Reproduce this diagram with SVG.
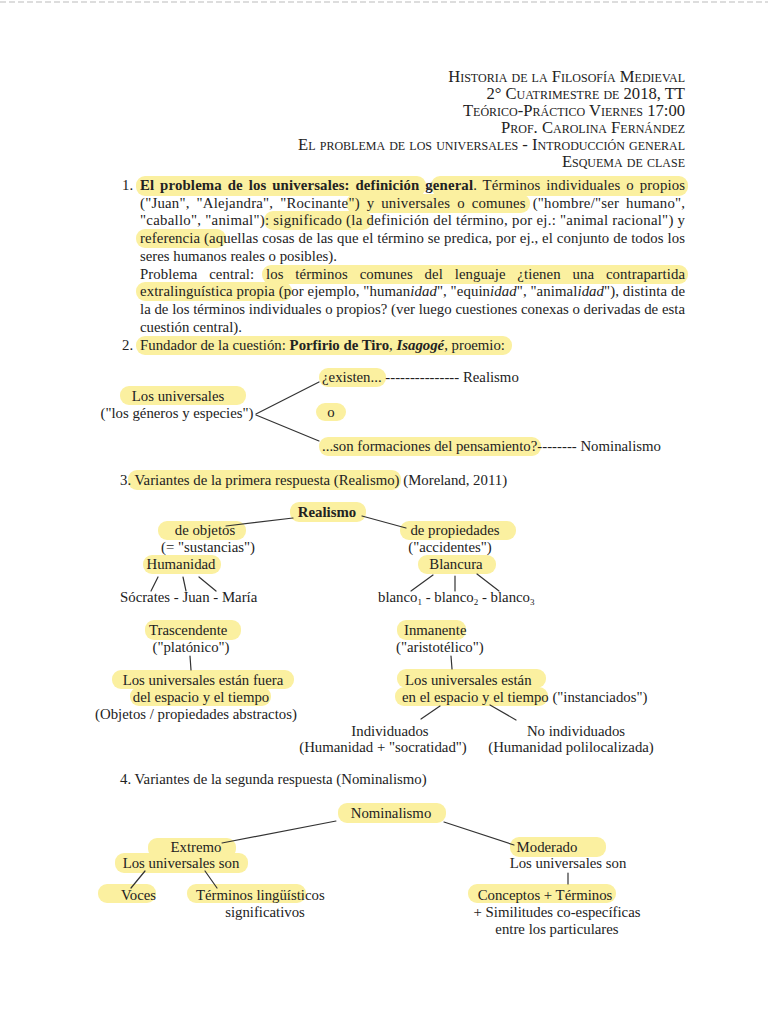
<svg xmlns="http://www.w3.org/2000/svg" width="768" height="1024" viewBox="0 0 768 1024">
<style>
text{font-family:"Liberation Serif","Times New Roman",serif;font-size:14.8px;fill:#222}
.sc{font-variant:small-caps}
#header text{font-size:16.6px}
.b{font-weight:bold}
.i{font-style:italic}
.c{text-anchor:middle}
.e{text-anchor:end}
.hl{fill:#fbf0a0}
.ln{stroke:#333;stroke-width:1.2;fill:none;stroke-linecap:round}
</style>
<rect width="768" height="1024" fill="#fff"/>
<line x1="0" y1="2" x2="768" y2="2" stroke="#bbb" stroke-width="1" stroke-dasharray="6 3"/>

<g id="highlights">
<rect class="hl" x="136" y="176" width="290" height="20" rx="9"/>
<rect class="hl" x="431" y="176" width="257" height="20" rx="9"/>
<rect class="hl" x="346" y="194" width="184" height="19" rx="9"/>
<rect class="hl" x="264" y="211" width="108" height="19" rx="9"/>
<rect class="hl" x="136" y="229" width="90" height="19" rx="9"/>
<rect class="hl" x="262" y="265" width="426" height="19" rx="9"/>
<rect class="hl" x="136" y="282" width="156" height="19" rx="9"/>
<rect class="hl" x="136" y="336" width="376" height="19" rx="9"/>
<rect class="hl" x="120" y="386" width="126" height="19" rx="9"/>
<rect class="hl" x="319" y="368" width="67" height="19" rx="9"/>
<rect class="hl" x="316" y="403" width="30" height="18" rx="9"/>
<rect class="hl" x="319" y="437" width="222" height="19" rx="9"/>
<rect class="hl" x="128" y="470" width="273" height="20" rx="9"/>
<rect class="hl" x="290" y="502" width="76" height="20" rx="9"/>
<rect class="hl" x="158" y="521" width="88" height="19" rx="9"/>
<rect class="hl" x="143" y="555" width="78" height="19" rx="9"/>
<rect class="hl" x="400" y="521" width="116" height="19" rx="9"/>
<rect class="hl" x="418" y="555" width="78" height="19" rx="9"/>
<rect class="hl" x="145" y="620" width="96" height="20" rx="9"/>
<rect class="hl" x="112" y="670" width="182" height="19" rx="9"/>
<rect class="hl" x="130" y="687" width="141" height="19" rx="9"/>
<rect class="hl" x="397" y="620" width="69" height="20" rx="9"/>
<rect class="hl" x="397" y="669" width="149" height="19" rx="9"/>
<rect class="hl" x="395" y="687" width="153" height="19" rx="9"/>
<rect class="hl" x="338" y="803" width="108" height="20" rx="9"/>
<rect class="hl" x="148" y="838" width="88" height="20" rx="9"/>
<rect class="hl" x="115" y="853" width="133" height="20" rx="9"/>
<rect class="hl" x="98" y="884" width="58" height="19" rx="9"/>
<rect class="hl" x="187" y="884" width="119" height="19" rx="9"/>
<rect class="hl" x="510" y="837" width="96" height="20" rx="9"/>
<rect class="hl" x="468" y="884" width="148" height="19" rx="9"/>
</g>

<g id="header" class="sc">
<text class="e" x="685" y="82">Historia de la Filosofía Medieval</text>
<text class="e" x="685" y="99">2° Cuatrimestre de 2018, TT</text>
<text class="e" x="685" y="116">Teórico-Práctico Viernes 17:00</text>
<text class="e" x="685" y="133">Prof. Carolina Fernández</text>
<text class="e" x="685" y="150">El problema de los universales - Introducción general</text>
<text class="e" x="685" y="167">Esquema de clase</text>
</g>

<g id="section1">
<text x="122" y="190">1.</text>
<text x="140" y="190" word-spacing="2" textLength="545" lengthAdjust="spacing"><tspan class="b">El problema de los universales: definición general</tspan>. Términos individuales o propios</text>
<text x="140" y="208" word-spacing="3" textLength="545" lengthAdjust="spacing">("Juan", "Alejandra", "Rocinante") y universales o comunes ("hombre/"ser humano",</text>
<text x="140" y="225" textLength="545" lengthAdjust="spacing">"caballo", "animal"): significado (la definición del término, por ej.: "animal racional") y</text>
<text x="140" y="243" textLength="545" lengthAdjust="spacing">referencia (aquellas cosas de las que el término se predica, por ej., el conjunto de todos los</text>
<text x="140" y="261">seres humanos reales o posibles).</text>
<text x="140" y="279" word-spacing="8" textLength="545" lengthAdjust="spacing">Problema central: los términos comunes del lenguaje ¿tienen una contrapartida</text>
<text x="140" y="296" textLength="545" lengthAdjust="spacing">extralinguística propia (por ejemplo, "human<tspan class="i">idad</tspan>", "equin<tspan class="i">idad</tspan>", "animal<tspan class="i">idad</tspan>"), distinta de</text>
<text x="140" y="314" textLength="545" lengthAdjust="spacing">la de los términos individuales o propios? (ver luego cuestiones conexas o derivadas de esta</text>
<text x="140" y="332">cuestión central).</text>
</g>

<g id="section2">
<text x="122" y="350">2.</text>
<text x="140" y="350">Fundador de la cuestión: <tspan class="b">Porfirio de Tiro</tspan>, <tspan class="b i">Isagogé</tspan>, proemio:</text>
<g id="n-universales">
<text class="c" x="178" y="401">Los universales</text>
<text class="c" x="177" y="418">("los géneros y especies")</text>
</g>
<g id="n-existen"><text x="322" y="382">¿existen... --------------- Realismo</text></g>
<g id="n-o"><text class="c" x="331" y="417">o</text></g>
<g id="n-formaciones"><text x="322" y="451">...son formaciones del pensamiento?-------- Nominalismo</text></g>
</g>

<g id="section3">
<text x="120" y="485">3. Variantes de la primera respuesta (Realismo) (Moreland, 2011)</text>
<g id="n-realismo"><text class="c b" x="327" y="517">Realismo</text></g>
<g id="n-objetos">
<text class="c" x="205" y="535">de objetos</text>
<text class="c" x="208" y="552">(= "sustancias")</text>
</g>
<g id="n-humanidad"><text class="c" x="181" y="569">Humanidad</text></g>
<g id="n-socrates"><text x="120" y="602">Sócrates - Juan - María</text></g>
<g id="n-propiedades">
<text class="c" x="455" y="535">de propiedades</text>
<text class="c" x="450" y="552">("accidentes")</text>
</g>
<g id="n-blancura"><text class="c" x="456" y="569">Blancura</text></g>
<g id="n-blancos"><text x="378" y="602">blanco<tspan font-size="9" dy="3">1</tspan><tspan dy="-3"> - blanco</tspan><tspan font-size="9" dy="3">2</tspan><tspan dy="-3"> - blanco</tspan><tspan font-size="9" dy="3">3</tspan></text></g>
<g id="n-trascendente">
<text x="149" y="635">Trascendente</text>
<text class="c" x="191" y="652">("platónico")</text>
</g>
<g id="n-fuera">
<text class="c" x="203" y="685">Los universales están fuera</text>
<text class="c" x="201" y="702">del espacio y el tiempo</text>
<text class="c" x="196" y="719">(Objetos / propiedades abstractos)</text>
</g>
<g id="n-inmanente">
<text x="404" y="635">Inmanente</text>
<text x="396" y="652">("aristotélico")</text>
</g>
<g id="n-en">
<text x="405" y="685">Los universales están</text>
<text x="402" y="702">en el espacio y el tiempo ("instanciados")</text>
</g>
<g id="n-individuados">
<text class="c" x="390" y="736">Individuados</text>
<text class="c" x="383" y="752">(Humanidad + "socratidad")</text>
</g>
<g id="n-noindividuados">
<text class="c" x="576" y="736">No individuados</text>
<text class="c" x="571" y="752">(Humanidad polilocalizada)</text>
</g>
</g>

<g id="section4">
<text x="120" y="784">4. Variantes de la segunda respuesta (Nominalismo)</text>
<g id="n-nominalismo"><text class="c" x="391" y="818">Nominalismo</text></g>
<g id="n-extremo">
<text class="c" x="196" y="852">Extremo</text>
<text class="c" x="181" y="868">Los universales son</text>
</g>
<g id="n-voces"><text x="121" y="900">Voces</text></g>
<g id="n-terminos">
<text x="196" y="900">Términos lingüísticos</text>
<text class="c" x="265" y="917">significativos</text>
</g>
<g id="n-moderado">
<text class="c" x="547" y="852">Moderado</text>
<text class="c" x="568" y="868">Los universales son</text>
</g>
<g id="n-conceptos">
<text class="c" x="545" y="900">Conceptos + Términos</text>
<text class="c" x="557" y="917">+ Similitudes co-específicas</text>
<text class="c" x="557" y="934">entre los particulares</text>
</g>
</g>

<g id="connectors" class="ln">
<line x1="256" y1="414" x2="319" y2="382"/>
<line x1="256" y1="415" x2="319" y2="441"/>
<line x1="293" y1="518" x2="226" y2="526"/>
<line x1="362" y1="516" x2="406" y2="528"/>
<line x1="158" y1="577" x2="151" y2="591"/>
<line x1="183" y1="577" x2="186" y2="591"/>
<line x1="199" y1="577" x2="216" y2="591"/>
<line x1="433" y1="575" x2="411" y2="591"/>
<line x1="455" y1="576" x2="455" y2="591"/>
<line x1="477" y1="574" x2="499" y2="591"/>
<line x1="190" y1="656" x2="191" y2="670"/>
<line x1="451" y1="656" x2="452" y2="669"/>
<line x1="440" y1="706" x2="421" y2="719"/>
<line x1="490" y1="705" x2="516" y2="720"/>
<line x1="336" y1="821" x2="222" y2="843"/>
<line x1="444" y1="822" x2="514" y2="845"/>
<line x1="145" y1="871" x2="131" y2="888"/>
<line x1="205" y1="871" x2="217" y2="888"/>
<line x1="568" y1="873" x2="568" y2="884"/>
</g>
</svg>
